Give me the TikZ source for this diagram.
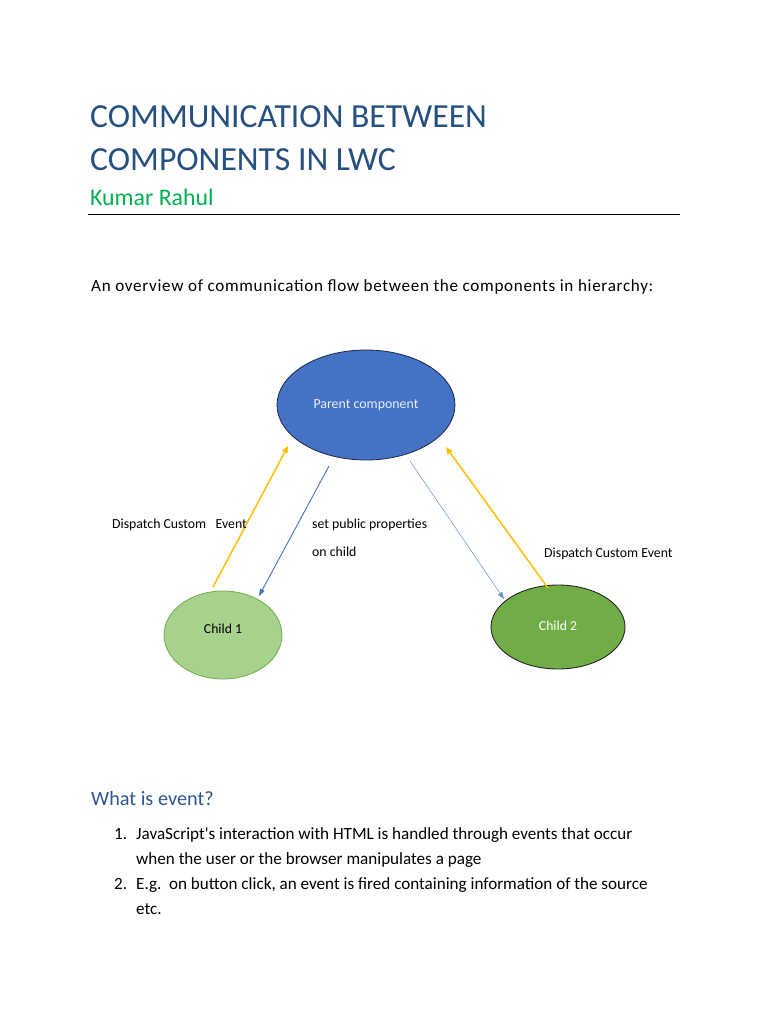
\documentclass[tikz,border=0pt]{standalone}
\usepackage{fontspec}
\setmainfont{Carlito}
\usetikzlibrary{arrows.meta,shapes.geometric}
\definecolor{titleblue}{RGB}{38,80,128}
\definecolor{headblue}{RGB}{47,84,150}
\definecolor{authgreen}{RGB}{0,176,80}
\definecolor{pblue}{RGB}{68,114,196}
\definecolor{pborder}{RGB}{30,40,70}
\definecolor{lgreen}{RGB}{169,209,142}
\definecolor{lgborder}{RGB}{112,173,71}
\definecolor{dgreen}{RGB}{112,173,71}
\definecolor{ylw}{RGB}{255,192,0}
\newcommand{\straightapos}{\XeTeXglyph\the\XeTeXcharglyph"0027\relax}
\tikzset{
  txt/.style={anchor=base west, inner sep=0pt, font=\fontsize{17.1}{20}\selectfont},
  lbl/.style={anchor=base west, inner sep=0pt, font=\fontsize{13.8}{16}\selectfont},
  yarrow/.style={draw=ylw, line width=1.5pt, -{Triangle[length=7pt,width=6pt]}},
  barrow/.style={draw=pblue, line width=0.9pt, -{Triangle[length=7pt,width=5pt]}},
  barrowthin/.style={draw=pblue!80, line width=0.5pt, -{Triangle[length=7pt,width=5pt]}},
}
\begin{document}
\begin{tikzpicture}[x=1pt,y=-1pt]
\useasboundingbox (0,0) rectangle (768,1024);
\fill[white] (0,0) rectangle (768,1024);
% title
\node[anchor=base west, inner sep=0pt, text=titleblue, font=\fontsize{33.7}{43}\selectfont] (t1) at (90,128) {COMMUNICATION BETWEEN};
\node[anchor=base west, inner sep=0pt, text=titleblue, font=\fontsize{33.7}{43}\selectfont] (t2) at (90,171) {COMPONENTS IN LWC};
\node[anchor=base west, inner sep=0pt, text=authgreen, font=\fontsize{23.8}{27}\selectfont] (au) at (90,206) {Kumar Rahul};
\coordinate (rl) at (88,214);
\coordinate (rr) at (680,214);
\draw[line width=0.9pt] (rl) -- (rr);
\node[txt, font=\fontsize{17.1}{20}\selectfont\addfontfeatures{LetterSpace=4}] (ov) at (91,291) {An overview of communication flow between the components in hierarchy:};
% ellipses
\node[ellipse, draw=pborder, line width=0.8pt, fill=pblue, minimum width=178pt, minimum height=110pt, inner sep=0pt,
  text=white!88!pblue, font=\fontsize{13.9}{16}\selectfont] (parent) at (366,405) {Parent component};
\node[ellipse, draw=lgborder, line width=0.8pt, fill=lgreen, minimum width=118pt, minimum height=88pt, inner sep=0pt,
  font=\fontsize{13.7}{16}\selectfont] (child1) at (223,635) {\raisebox{6pt}[\height][\depth]{Child 1}};
\node[ellipse, draw=black!85, line width=0.9pt, fill=dgreen, minimum width=134pt, minimum height=84pt, inner sep=0pt,
  text=white, font=\fontsize{13.7}{16}\selectfont] (child2) at (558,627) {\raisebox{1.5pt}[\height][\depth]{Child 2}};
% arrow ends
\coordinate (y1s) at (213,587);
\coordinate (y1e) at (288,446);
\coordinate (b1s) at (329,466);
\coordinate (b1e) at (259,596);
\coordinate (b2s) at (410,461);
\coordinate (b2e) at (504,599);
\coordinate (y2s) at (548,588);
\coordinate (y2e) at (446,447);
\draw[yarrow] (y1s) -- (y1e);
\draw[barrow] (b1s) -- (b1e);
\draw[barrowthin] (b2s) -- (b2e);
\draw[yarrow] (y2s) -- (y2e);
% labels
\node[lbl] (l1) at (112,528) {Dispatch Custom\ \ \ Event};
\node[lbl] (l2) at (312,528) {set public properties};
\node[lbl] (l3) at (312,556) {on child};
\node[lbl] (l4) at (544,557) {Dispatch Custom Event};
% section
\node[anchor=base west, inner sep=0pt, text=headblue, font=\fontsize{20.3}{24}\selectfont] (h) at (91,805) {What is event?};
\node[txt] (n1) at (114,839) {1.};
\node[txt] (i1a) at (136,839) {JavaScript\straightapos s interaction with HTML is handled through events that occur};
\node[txt] (i1b) at (136,864) {when the user or the browser manipulates a page};
\node[txt] (n2) at (114,889) {2.};
\node[txt] (i2a) at (136,889) {E.g.\ \ on button click, an event is fired containing information of the source};
\node[txt] (i2b) at (136,914) {etc.};
\end{tikzpicture}
\end{document}
